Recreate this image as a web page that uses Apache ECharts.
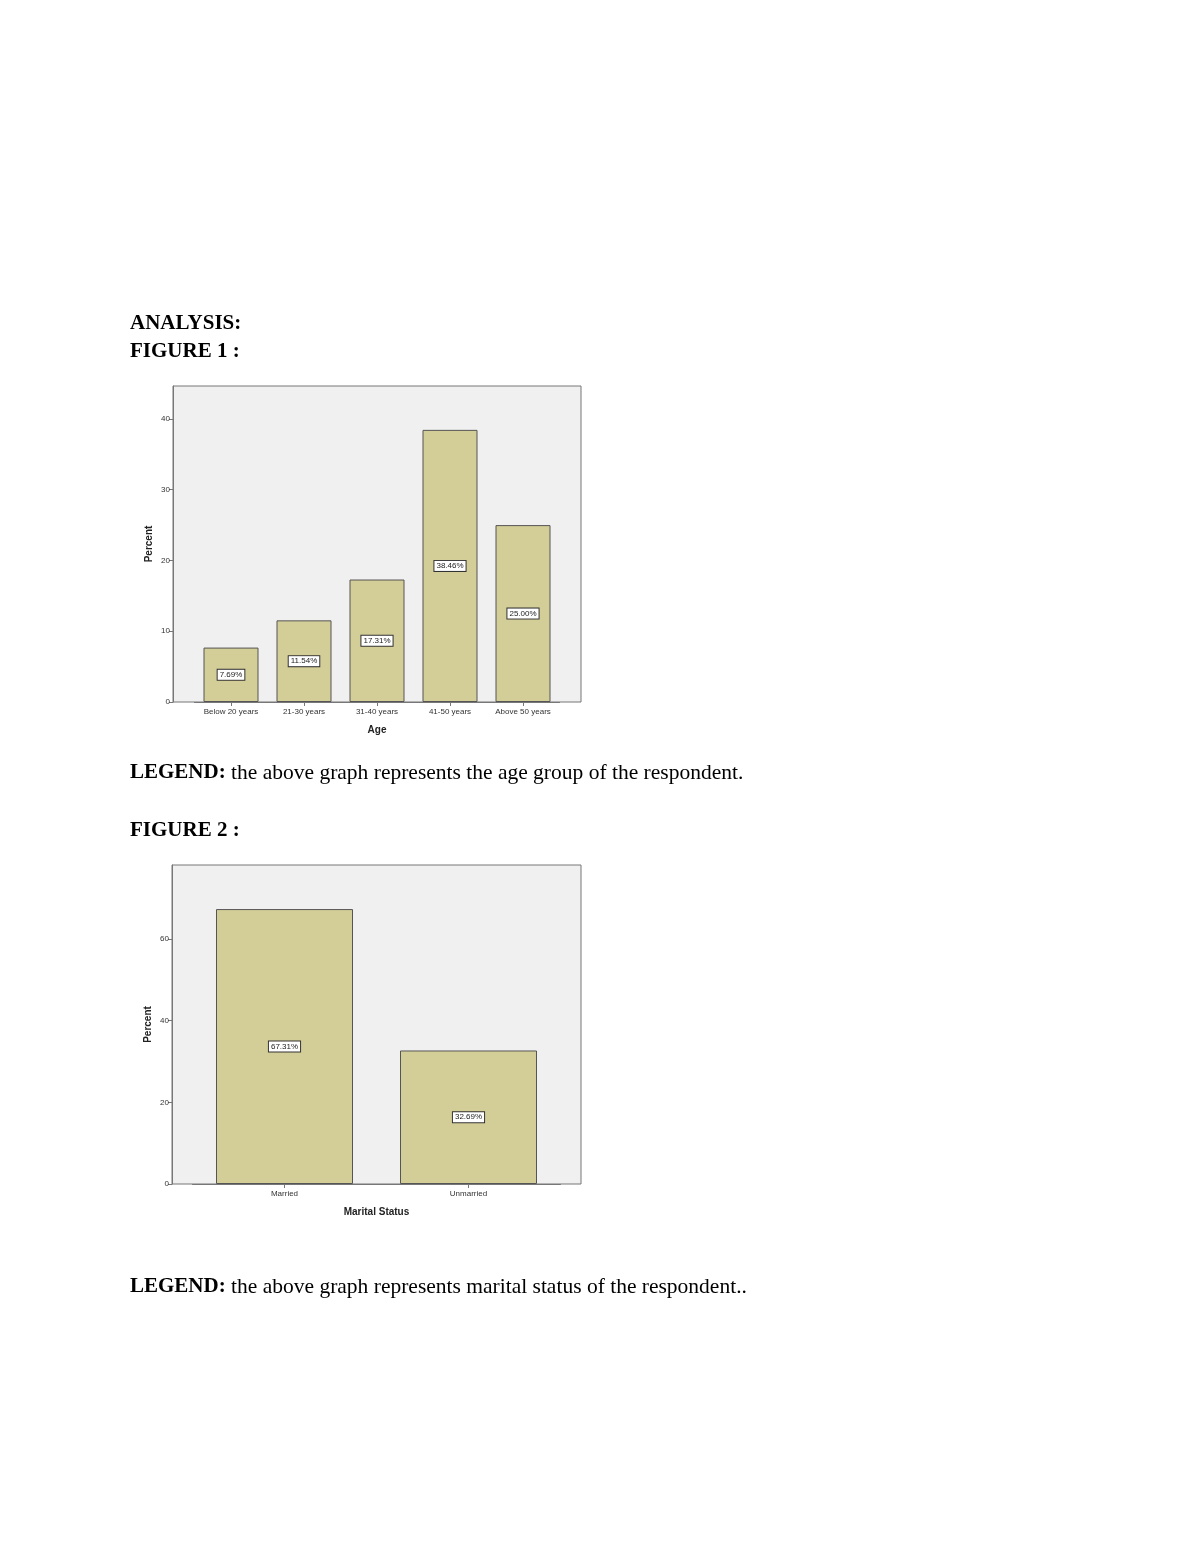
<!DOCTYPE html>
<html>
<head>
<meta charset="utf-8">
<script src="https://cdn.jsdelivr.net/npm/echarts@6/dist/echarts.min.js"></script>
<style>
html,body{margin:0;padding:0;background:#fff;}
#c{width:1200px;height:1553px;}
</style>
</head>
<body>
<div id="c"></div>
<script>
// ---- data ----
const ageCategories = ['Below 20 years', '21-30 years', '31-40 years', '41-50 years', 'Above 50 years'];
const agePercent = [7.69, 11.54, 17.31, 38.46, 25.00];
const ageTicks = [0, 10, 20, 30, 40];

const maritalCategories = ['Married', 'Unmarried'];
const maritalPercent = [67.31, 32.69];
const maritalTicks = [0, 20, 40, 60];

// ---- layout / style ----
const AGE_MAX = 44.66;
const MAR_MAX = 78.1;
const barColor = '#d3cd97';
const frameBg = '#f0f0f0';
const axisCol = '#777';
const labelCol = '#333';

const chart = echarts.init(document.getElementById('c'), null, {renderer: 'canvas'});

function frameY(max, ticks) {
  return {
    type: 'value', min: 0, max: max,
    axisLine: {show: true, lineStyle: {color: axisCol}},
    axisTick: {show: true, length: 4, customValues: ticks, lineStyle: {color: axisCol}},
    axisLabel: {fontSize: 8, color: labelCol, margin: 3, fontFamily: 'Liberation Sans', customValues: ticks},
    splitLine: {show: false},
    name: 'Percent', nameLocation: 'middle', nameGap: 19, nameRotate: 90,
    nameTextStyle: {fontSize: 10, fontWeight: 'bold', color: '#222', fontFamily: 'Liberation Sans'}
  };
}
function hiddenX() {
  return {type: 'value', show: false, min: 0, max: 1};
}
function barsX(cats, name, gap) {
  return {
    type: 'category', data: cats, boundaryGap: true,
    axisLine: {show: true, lineStyle: {color: axisCol}},
    axisTick: {show: true, alignWithLabel: true, length: 4, lineStyle: {color: axisCol}},
    axisLabel: {fontSize: 8, color: labelCol, margin: 6, fontFamily: 'Liberation Sans', interval: 0},
    name: name, nameLocation: 'middle', nameGap: gap,
    nameTextStyle: {fontSize: 10, fontWeight: 'bold', color: '#222', fontFamily: 'Liberation Sans'}
  };
}
function hiddenY(max) {
  return {type: 'value', show: false, min: 0, max: max};
}
const barLabel = {
  show: true, position: 'inside',
  formatter: p => p.value.toFixed(2) + '%',
  fontSize: 8, color: '#222', fontFamily: 'Liberation Sans',
  backgroundColor: '#fff', borderColor: '#333', borderWidth: 1, padding: [1, 2]
};

const serif = 'Liberation Serif';
function txt(y, content) {
  return {
    type: 'text', left: 130, top: y,
    style: {
      text: content, fill: '#000', font: '21px "' + serif + '"',
      rich: {
        b: {fontWeight: 'bold', fontSize: 21, fontFamily: serif, fill: '#000'},
        r: {fontSize: 21.5, fontFamily: serif, fill: '#000'}
      }
    }
  };
}

chart.setOption({
  backgroundColor: '#fff',
  animation: false,
  grid: [
    {left: 173, top: 386, width: 408, height: 316, show: true, backgroundColor: frameBg, borderColor: axisCol, borderWidth: 1},
    {left: 194.5, top: 386, width: 365, height: 316},
    {left: 172, top: 865, width: 409, height: 319, show: true, backgroundColor: frameBg, borderColor: axisCol, borderWidth: 1},
    {left: 192.5, top: 865, width: 368, height: 319}
  ],
  xAxis: [
    Object.assign(hiddenX(), {gridIndex: 0}),
    Object.assign(barsX(ageCategories, 'Age', 23), {gridIndex: 1}),
    Object.assign(hiddenX(), {gridIndex: 2}),
    Object.assign(barsX(maritalCategories, 'Marital Status', 23), {gridIndex: 3})
  ],
  yAxis: [
    Object.assign(frameY(AGE_MAX, ageTicks), {gridIndex: 0}),
    Object.assign(hiddenY(AGE_MAX), {gridIndex: 1}),
    Object.assign(frameY(MAR_MAX, maritalTicks), {gridIndex: 2}),
    Object.assign(hiddenY(MAR_MAX), {gridIndex: 3})
  ],
  series: [
    {type: 'bar', xAxisIndex: 1, yAxisIndex: 1, data: agePercent, barWidth: 55,
     itemStyle: {color: barColor, borderColor: '#555', borderWidth: 1}, label: barLabel},
    {type: 'bar', xAxisIndex: 3, yAxisIndex: 3, data: maritalPercent, barWidth: 137,
     itemStyle: {color: barColor, borderColor: '#555', borderWidth: 1}, label: barLabel}
  ],
  graphic: [
    txt(313, '{b|ANALYSIS:}'),
    txt(341, '{b|FIGURE 1 :}'),
    txt(762, '{b|LEGEND:}{r| the above graph represents the age group of the respondent.}'),
    txt(820, '{b|FIGURE 2 :}'),
    txt(1276, '{b|LEGEND:}{r| the above graph represents marital status of the respondent..}')
  ]
});
</script>
</body>
</html>
